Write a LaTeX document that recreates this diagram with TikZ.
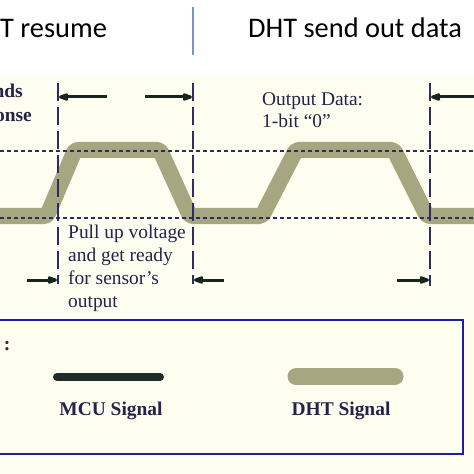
\documentclass[tikz,border=0pt]{standalone}
\usepackage{fontspec}
\setmainfont{Liberation Serif}
\newfontfamily\calib{Carlito}
\usetikzlibrary{arrows.meta}
\definecolor{cream}{RGB}{254,254,240}
\definecolor{olivesig}{RGB}{166,166,128}
\definecolor{mcusig}{RGB}{30,45,38}
\definecolor{arrowc}{RGB}{22,38,28}
\definecolor{navyline}{RGB}{45,45,100}
\definecolor{boxblue}{RGB}{30,30,165}
\definecolor{sepblue}{RGB}{120,150,200}
\definecolor{txtc}{RGB}{35,35,75}
\tikzset{
  dhtwave/.style={draw=olivesig, line width=16bp, line join=round, rounded corners=3bp},
  vdash/.style={draw=navyline, line width=1.1bp, dash pattern=on 18bp off 6bp},
  hdot/.style={draw=navyline, line width=1.2bp, dash pattern=on 4bp off 3bp},
  dimarrow/.style={draw=arrowc, line width=3bp, -{Stealth[length=13bp,width=9bp,inset=2bp,round]}},
  bodytxt/.style={text=txtc, inner sep=0pt, font=\fontsize{19.5}{23}\selectfont},
  boldtxt/.style={text=txtc, inner sep=0pt, font=\fontsize{19.5}{23}\selectfont\bfseries},
  toptxt/.style={text=black, inner sep=0pt, font=\calib\fontsize{28.5}{30}\selectfont}
}
\begin{document}
\begin{tikzpicture}[x=1bp,y=-1bp]
\useasboundingbox (0,0) rectangle (474,474);
\fill[white] (0,0) rectangle (474,75);
\fill[cream] (0,75) rectangle (474,474);

% header
\node[toptxt, anchor=base west] (resume) at (0,38) {T resume};
\node[toptxt, anchor=base west] (sendout) at (248,38) {DHT send out data};
\coordinate (sepT) at (193,7);
\coordinate (sepB) at (193,55);
\draw[sepblue, line width=1.3bp] (sepT) -- (sepB);

% DHT waveform
\draw[dhtwave] (-12,216) -- (47,216) -- (75,150) -- (160,150) -- (190,216)
  -- (262,216) -- (296,150) -- (394,150) -- (427,216) -- (486,216);

% horizontal reference lines
\coordinate (hiL) at (0,151); \coordinate (hiR) at (474,151);
\coordinate (loL) at (0,218); \coordinate (loR) at (474,218);
\draw[hdot] (hiL) -- (hiR);
\draw[hdot] (loL) -- (loR);

% vertical markers
\coordinate (v1t) at (58,83);  \coordinate (v1b) at (58,284);
\coordinate (v2t) at (193,83); \coordinate (v2b) at (193,284);
\coordinate (v3t) at (430,83); \coordinate (v3b) at (430,286);
\draw[vdash] (v1t) -- (v1b);
\draw[vdash] (v2t) -- (v2b);
\draw[vdash] (v3t) -- (v3b);

% dimension arrows (top)
\coordinate (a1t) at (107,97); \coordinate (a1h) at (59,97);
\coordinate (a2t) at (145,97); \coordinate (a2h) at (192,97);
\coordinate (a3t) at (480,97); \coordinate (a3h) at (431,97);
\draw[dimarrow] (a1t) -- (a1h);
\draw[dimarrow] (a2t) -- (a2h);
\draw[dimarrow] (a3t) -- (a3h);

% dimension arrows (bottom)
\coordinate (b1t) at (27,280);  \coordinate (b1h) at (57,280);
\coordinate (b2t) at (224,280); \coordinate (b2h) at (194,280);
\coordinate (b3t) at (397,280); \coordinate (b3h) at (429,280);
\draw[dimarrow] (b1t) -- (b1h);
\draw[dimarrow] (b2t) -- (b2h);
\draw[dimarrow] (b3t) -- (b3h);

% labels
\node[boldtxt, anchor=base east] (nds) at (23,98) {nds};
\node[boldtxt, anchor=base east] (onse) at (32,122) {onse};
\node[bodytxt, anchor=base west, align=left] (outdata) at (262,128) {Output Data:\\1-bit “0”};
\node[bodytxt, anchor=base west, align=left] (pullup) at (68,307) {Pull up voltage\\and get ready\\for sensor's\\output};

% legend
\draw[boxblue, line width=2.5bp] (-5,320) rectangle (463,454);
\node[boldtxt, anchor=base] (colon) at (7,350) {:};
\coordinate (m1) at (57,377); \coordinate (m2) at (160,377);
\draw[mcusig, line width=8bp, line cap=round] (m1) -- (m2);
\coordinate (d1) at (296,376.5); \coordinate (d2) at (395,376.5);
\draw[olivesig, line width=17bp, line cap=round] (d1) -- (d2);
\node[boldtxt, anchor=base] (mculbl) at (111,415) {MCU Signal};
\node[boldtxt, anchor=base] (dhtlbl) at (341,415) {DHT Signal};
\end{tikzpicture}
\end{document}
